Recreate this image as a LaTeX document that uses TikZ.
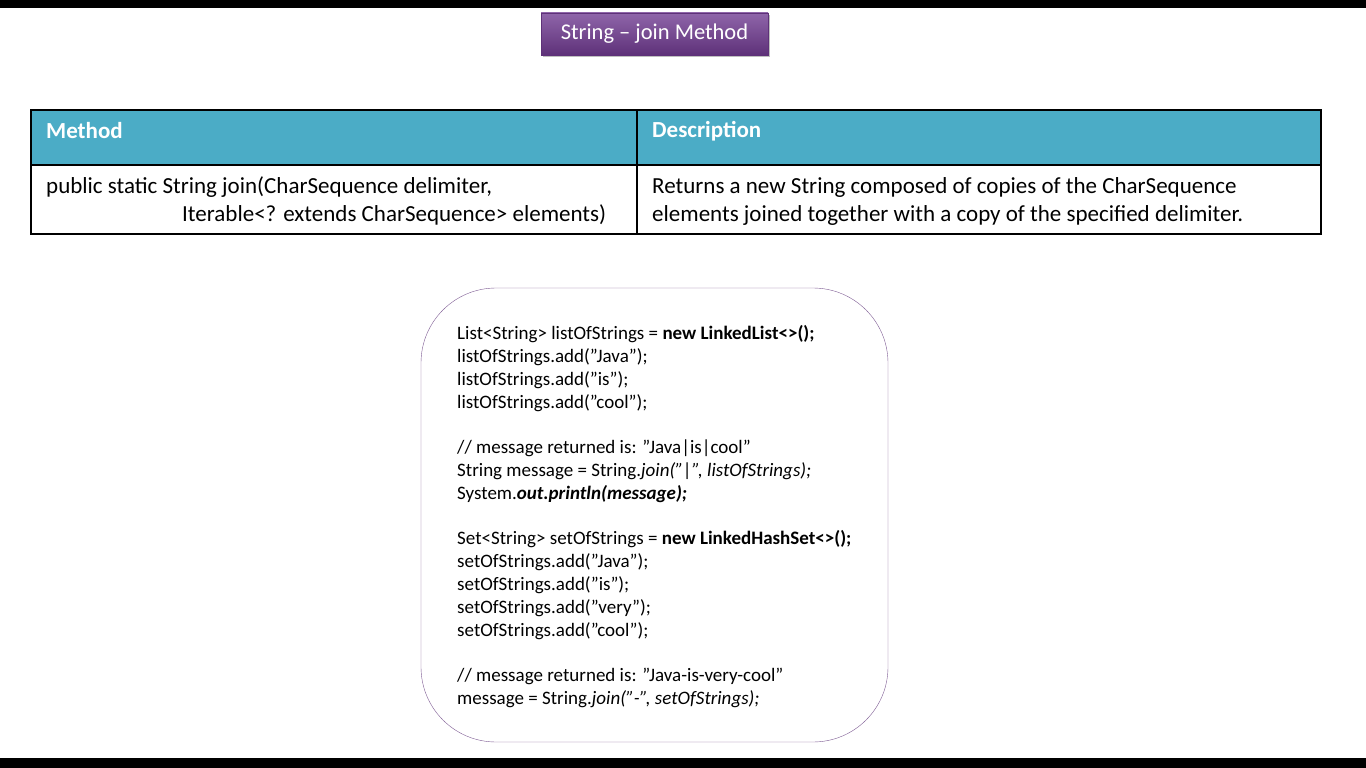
\documentclass[tikz,border=0pt]{standalone}
\usepackage{fontspec}
\setmainfont{Carlito}
\usetikzlibrary{shadows}
\definecolor{hdr}{HTML}{4BACC6}
\definecolor{ttl}{HTML}{7B4A9A}
\definecolor{ttl2}{HTML}{5E3179}
\newcommand{\qq}{\symbol{34}}
\begin{document}
\begin{tikzpicture}[x=1pt,y=-1pt,
  code/.style={anchor=west,inner sep=0pt,font=\fontsize{19}{22}\selectfont},
  cell/.style={anchor=west,inner sep=0pt,font=\fontsize{23}{27}\selectfont}]
\useasboundingbox (0,0) rectangle (1366,768);
\fill[black] (0,0) rectangle (1366,8);
\fill[black] (0,758) rectangle (1366,768);
\node[draw=ttl2,top color=ttl!85!white,bottom color=ttl2,drop shadow,minimum width=227,minimum height=42,text=white,font=\fontsize{22.5}{26}\selectfont] (title) at (654.5,34) {String -- join Method};
% table
\fill[hdr] (31,110) rectangle (1321,165);
\draw[line width=1.5pt] (31,110) rectangle (1321,234);
\draw[line width=1.5pt] (31,165) -- (1321,165);
\draw[line width=1.5pt] (637,110) -- (637,234);
\node[cell,text=white,font=\fontsize{23}{27}\selectfont\bfseries] (h1) at (46,131) {Method};
\node[cell,text=white,font=\fontsize{23}{27}\selectfont\bfseries] (h2) at (652,131) {Description};
\node[cell] (m1) at (46,187) {public static String join(CharSequence delimiter,};
\node[cell] (m2) at (182,215) {Iterable<? extends CharSequence> elements)};
\node[cell] (d1) at (652,187) {Returns a new String composed of copies of the CharSequence};
\node[cell] (d2) at (652,215) {elements joined together with a copy of the specified delimiter.};
% code box
\draw[draw=ttl!70!gray,rounded corners=75] (421,288) rectangle (888,742);
\node[code] at (457,334) {List<String> listOfStrings = \textbf{new LinkedList<>();}};
\node[code] at (457,357) {listOfStrings.add(\qq Java\qq);};
\node[code] at (457,380) {listOfStrings.add(\qq is\qq);};
\node[code] at (457,403) {listOfStrings.add(\qq cool\qq);};
\node[code] at (457,448) {// message returned is: \qq Java|is|cool\qq};
\node[code] at (457,471) {String message = String.\textit{join(\qq|\qq, listOfStrings);}};
\node[code] at (457,494) {System.\textbf{\textit{out.println(message);}}};
\node[code] at (457,539) {Set<String> setOfStrings = \textbf{new LinkedHashSet<>();}};
\node[code] at (457,562) {setOfStrings.add(\qq Java\qq);};
\node[code] at (457,585) {setOfStrings.add(\qq is\qq);};
\node[code] at (457,608) {setOfStrings.add(\qq very\qq);};
\node[code] at (457,631) {setOfStrings.add(\qq cool\qq);};
\node[code] at (457,676) {// message returned is: \qq Java-is-very-cool\qq};
\node[code] at (457,699) {message = String.\textit{join(\qq-\qq, setOfStrings);}};
\end{tikzpicture}
\end{document}
